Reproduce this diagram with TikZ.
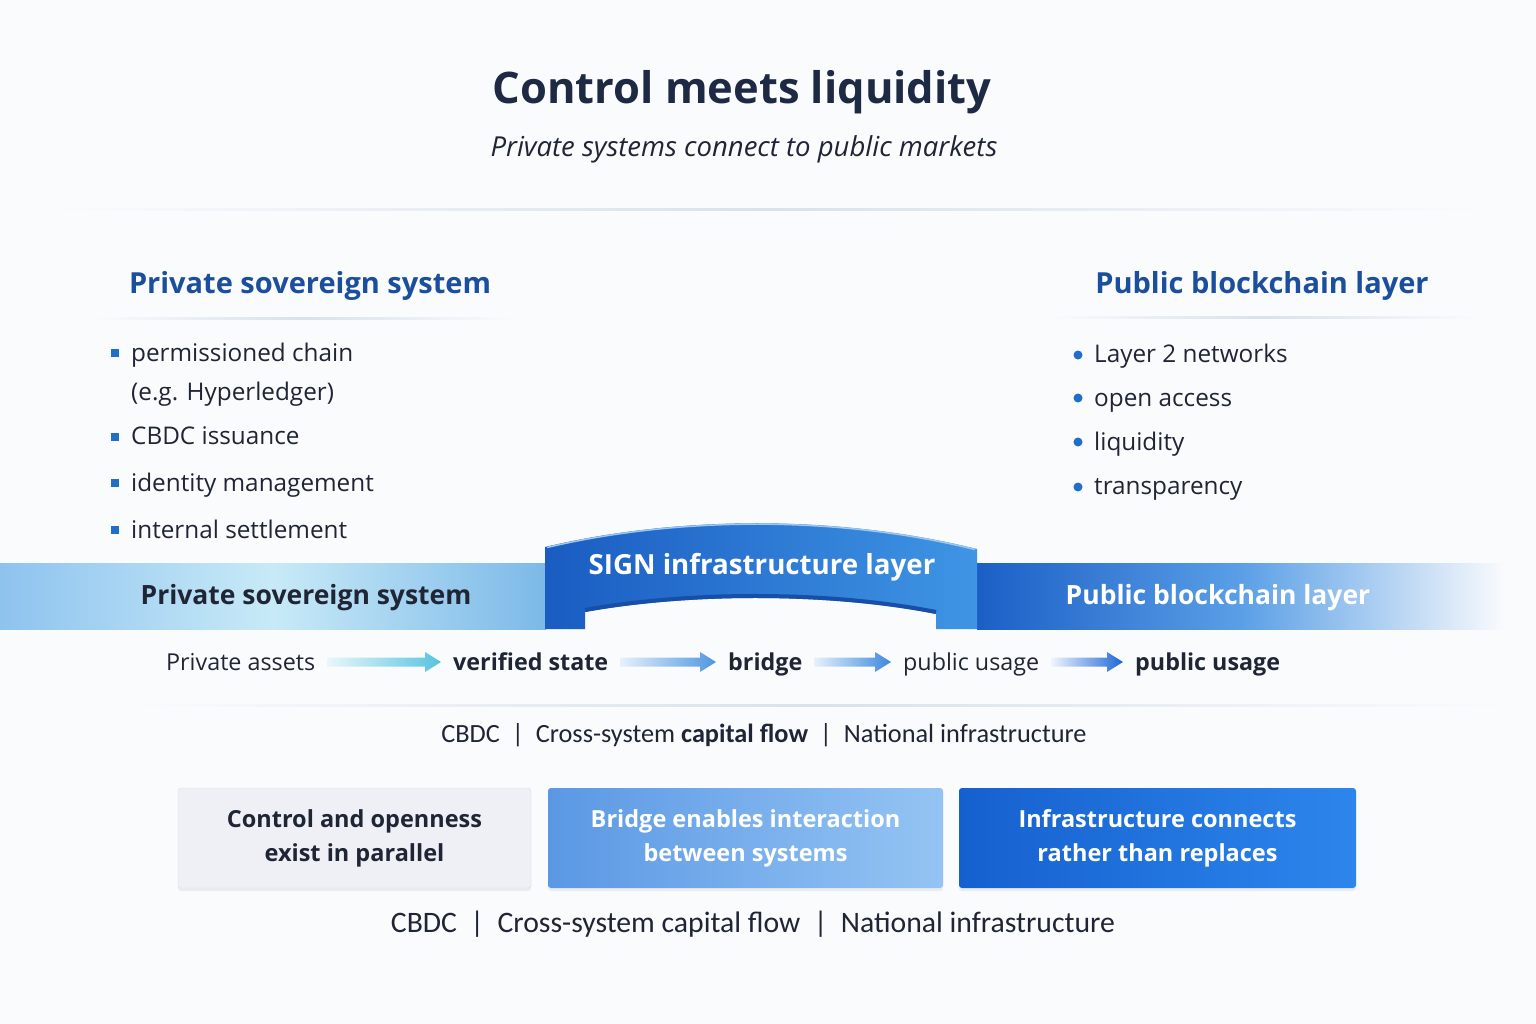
\documentclass[tikz,border=0pt]{standalone}
\usepackage{fontspec}
\setmainfont{Open Sans}
\newfontfamily\calib{Carlito}
\usetikzlibrary{calc,shadows}
\definecolor{bgc}{HTML}{FAFBFD}
\definecolor{titlec}{HTML}{1E2A44}
\definecolor{headc}{HTML}{1B4F9E}
\definecolor{bodyc}{HTML}{1F2535}
\definecolor{bulc}{HTML}{1F6FC8}
\definecolor{linec}{HTML}{D9E1EB}
\definecolor{bandA}{HTML}{8EC3EF}
\definecolor{bandB}{HTML}{C8EAF7}
\definecolor{bandC}{HTML}{7CB9E8}
\definecolor{pubA}{HTML}{1B5FC6}
\definecolor{pubB}{HTML}{5A9FE6}
\definecolor{archA}{HTML}{1A5CC2}
\definecolor{archB}{HTML}{3F95E4}
\definecolor{archD}{HTML}{174FA8}
\definecolor{archH}{HTML}{9CC8F2}
\definecolor{arA1}{HTML}{EAF6FB}
\definecolor{arA2}{HTML}{56C3DF}
\definecolor{arB1}{HTML}{E6F0FB}
\definecolor{arB2}{HTML}{4F96E0}
\definecolor{arC2}{HTML}{3C88DE}
\definecolor{arD1}{HTML}{EEF4FC}
\definecolor{arD2}{HTML}{1F66D6}
\definecolor{boxA}{HTML}{EEF0F6}
\definecolor{boxAb}{HTML}{D9DEE8}
\definecolor{boxB1}{HTML}{5B98E4}
\definecolor{boxB2}{HTML}{94C4F3}
\definecolor{boxC1}{HTML}{1560CF}
\definecolor{boxC2}{HTML}{2D86EC}
\newcommand\fs[1]{\fontsize{#1}{#1}\selectfont}
\newcommand\flowarrow[4]{%
  \shade[left color=#3,right color=#4] let \p1=($(#1.east)+(12,0)$), \p2=($(#2.west)+(-12,0)$), \p3=(flowy) in
  (\x1,\y3+4.5) -- (\x2-16,\y3+4.5) -- (\x2-16,\y3+10) -- (\x2,\y3) -- (\x2-16,\y3-10) -- (\x2-16,\y3-4.5) -- (\x1,\y3-4.5) -- cycle;}
\tikzset{
  title/.style={font=\bfseries\fs{43.5}, text=titlec, inner sep=0},
  subtitle/.style={font=\itshape\fs{27.5}, text=bodyc, inner sep=0},
  heading/.style={font=\bfseries\fs{29}, text=headc, inner sep=0},
  item/.style={font=\fs{24.3}, text=bodyc, inner sep=0, anchor=base west},
  sqbul/.style={fill=bulc},
  flowtxt/.style={font=\fs{23.3}, text=bodyc, inner sep=0, anchor=base west},
  flowbold/.style={flowtxt, font=\bfseries\fs{23.3}},
  bandtxt/.style={font=\bfseries\fs{26.5}, inner sep=0},
  cbdc/.style={font=\calib\fs{#1}, text=bodyc, inner sep=0},
  fadeline/.style={left color=bgc, right color=bgc, middle color=linec},
  box/.style={minimum width=#1, minimum height=100, rounded corners=3, align=center,
     font=\bfseries\fontsize{23.5}{34}\selectfont, drop shadow={opacity=0.12, shadow xshift=0pt, shadow yshift=-3pt}},
}
\begin{document}
\begin{tikzpicture}[x=1pt,y=-1pt]
\useasboundingbox (0,0) rectangle (1536,1024);
\fill[bgc] (0,0) rectangle (1536,1024);

% title
\node[title] (title) at (742,92) {Control meets liquidity};
\node[subtitle] (sub) at (744,149) {Private systems connect to public markets};
\shade[fadeline] (45,208.3) rectangle (1490,210.3);

% headings
\node[heading] (lh) at (310,286) {Private sovereign system};
\node[heading] (rh) at (1262,286) {Public blockchain layer};
\shade[fadeline] (90,317.3) rectangle (515,319.3);
\shade[fadeline] (1045,316.3) rectangle (1480,318.3);

% left bullets
\node[item] (l1) at (131,361) {permissioned chain};
\node[item] (l1b) at (131,400) {(e.g. Hyperledger)};
\node[item] (l2) at (131,444) {CBDC issuance};
\node[item] (l3) at (131,491) {identity management};
\node[item] (l4) at (131,538) {internal settlement};
\foreach \yy in {353,437,483,530} \fill[sqbul] (111,\yy-4) rectangle (119,\yy+4);

% right bullets
\node[item] (r1) at (1094,362) {Layer 2 networks};
\node[item] (r2) at (1094,406) {open access};
\node[item] (r3) at (1094,450) {liquidity};
\node[item] (r4) at (1094,494) {transparency};
\foreach \yy in {355,398,442,487} \fill[bulc] (1078,\yy) circle (4.5);

% band left
\shade[left color=bandA, right color=bandC, middle color=bandB] (0,563) rectangle (546,629);
\node[bandtxt, text=bodyc] (band1) at (306,598) {Private sovereign system};
% band right
\shade[left color=pubA, right color=bgc, middle color=pubB] (977,563) rectangle (1505,629);
\node[bandtxt, text=white] (band3) at (1218,598) {Public blockchain layer};

% arch
\shade[left color=archA, right color=archB]
  (545,629) -- (545,547) .. controls (680,515) and (840,515) .. (977,549) -- (977,629)
  -- (936,629) -- (936,614) .. controls (830,593) and (690,593) .. (585,612) -- (585,629) -- cycle;
\draw[archH, line width=1.5] (547,547.5) .. controls (680,516) and (840,516) .. (975,549.5);
\draw[archD, line width=4] (585,610) .. controls (690,591) and (830,591) .. (936,612);
\node[font=\bfseries\fs{27.7}, text=white, inner sep=0] (arch) at (762,567) {SIGN infrastructure layer};

% flow row
\coordinate (flowy) at (0,662);
\node[flowtxt] (pa) at (166,670) {Private assets};
\node[flowbold] (vs) at (453,670) {verified state};
\node[flowbold] (br) at (728,670) {bridge};
\node[flowtxt] (pu1) at (903,670) {public usage};
\node[flowbold] (pu2) at (1135,670) {public usage};
\flowarrow{pa}{vs}{arA1}{arA2}
\flowarrow{vs}{br}{arB1}{arB2}
\flowarrow{br}{pu1}{arB1}{arC2}
\flowarrow{pu1}{pu2}{arD1}{arD2}

\shade[fadeline] (125,704.3) rectangle (1510,706.3);

\node[cbdc=26.3] (c1) at (764,735) {CBDC \ | \ Cross-system \textbf{capital flow} \ | \ National infrastructure};

% boxes
\node[box=353, fill=boxA, draw=boxAb, text=bodyc] (b1) at (354.5,838) {Control and openness\\exist in parallel};
\node[box=395, left color=boxB1, right color=boxB2, text=white] (b2) at (745.5,838) {Bridge enables interaction\\between systems};
\node[box=397, left color=boxC1, right color=boxC2, text=white] (b3) at (1157.5,838) {Infrastructure connects\\rather than replaces};

\node[cbdc=29.7] (c2) at (753,924) {CBDC \ | \ Cross-system capital flow \ | \ National infrastructure};
\end{tikzpicture}
\end{document}
